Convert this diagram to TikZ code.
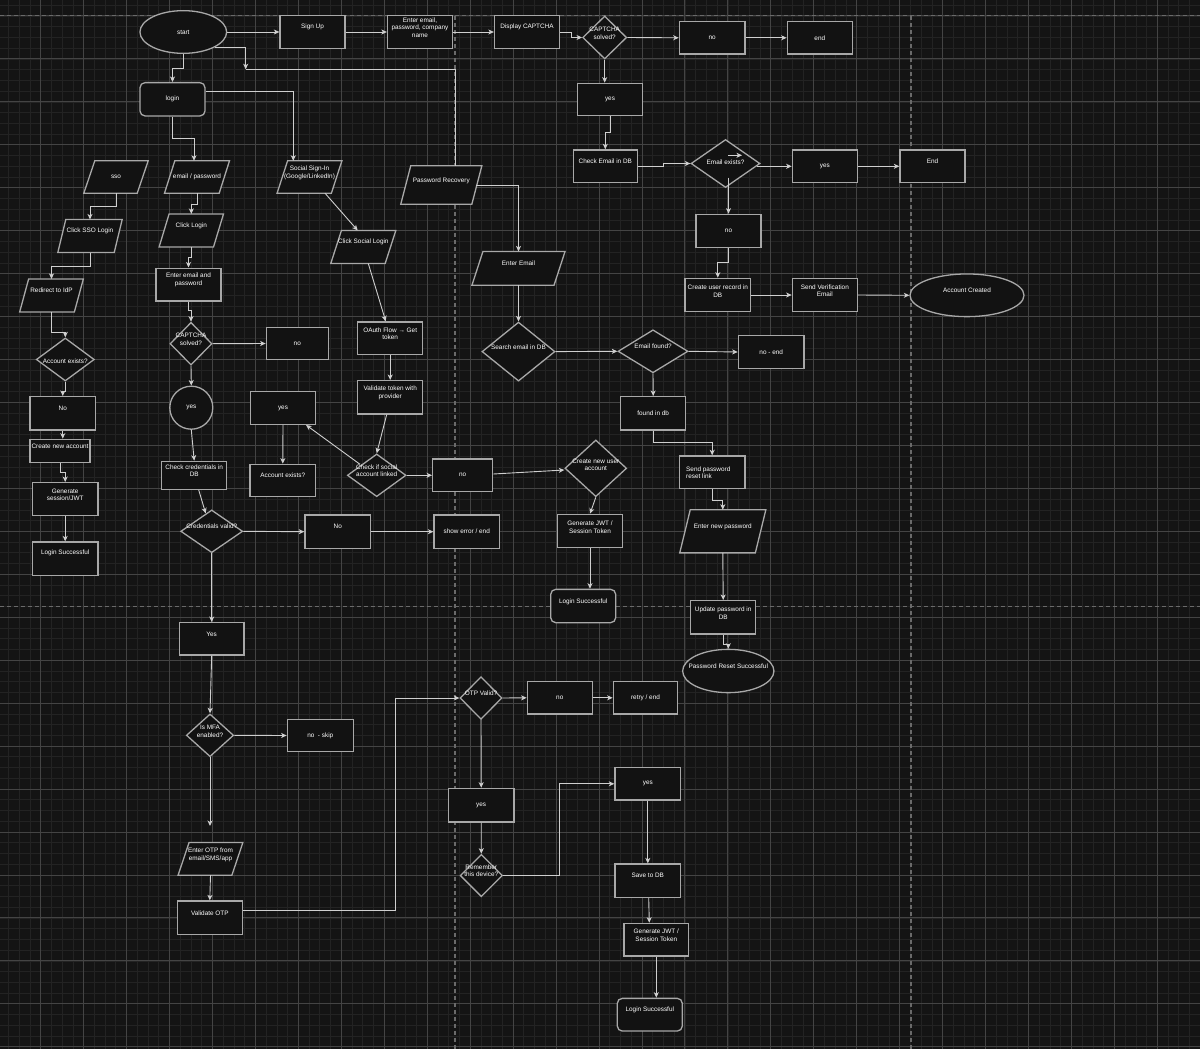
\documentclass[tikz,border=0pt]{standalone}
\usepackage{fontspec}
\setmainfont{Liberation Sans}
\usetikzlibrary{shapes.geometric,arrows.meta,calc}
\definecolor{bgc}{HTML}{141414}
\definecolor{gmin}{HTML}{232323}
\definecolor{gmaj}{HTML}{444444}
\definecolor{pagec}{HTML}{6A6A6A}
\definecolor{nfill}{HTML}{121212}
\definecolor{nline}{HTML}{A8A8A8}
\definecolor{eline}{HTML}{CFCFCF}
\tikzset{
 shp/.style={draw=nline, fill=nfill, line width=1.3pt},
 boxs/.style={shp, rectangle, inner sep=0pt},
 rbox/.style={boxs, rounded corners=5pt},
 dia/.style={shp, diamond, inner sep=0pt},
 ell/.style={shp, ellipse, inner sep=0pt},
 circ/.style={shp, circle, inner sep=0pt},
 txt/.style={text=white, font=\fontsize{6.4}{7.8}\selectfont, align=center, inner sep=0pt},
 arr/.style={draw=eline, line width=0.9pt, -{Stealth[length=5.5pt,width=5pt,inset=1.5pt]}},
 ln/.style={draw=eline, line width=0.9pt},
}
% #1 style, #2 name, #3 x, #4 y, #5 w, #6 h, #7 text, #8 text shift up
\newcommand\mybox[8]{%
 \node[#1, minimum width=#5pt, minimum height=#6pt] (#2) at (#3,#4) {};
 \node[txt] (#2-t) at ([yshift=#8pt]#2.center) {#7};
}
% #1 name, #2 x, #3 y, #4 w, #5 h, #6 slant, #7 text, #8 text shift up
\newcommand\mypara[8]{%
 \node[rectangle, inner sep=0pt, minimum width=#4pt, minimum height=#5pt] (#1) at (#2,#3) {};
 \draw[shp] ([xshift=#6pt]#1.north west) -- (#1.north east) -- ([xshift=-#6pt]#1.south east) -- (#1.south west) -- cycle;
 \node[txt] (#1-t) at ([yshift=#8pt]#1.center) {#7};
}
\begin{document}
\begin{tikzpicture}[x=1pt,y=-1pt]
\useasboundingbox (0,0) rectangle (1200,1049);
\fill[bgc] (0,0) rectangle (1200,1049);
\begin{scope}
\clip (0,0) rectangle (1200,1049);
\foreach \i in {-4,...,108} \draw[gmin, line width=0.6pt] ({40.6+\i*10.7375},0) -- ++(0,1049);
\foreach \i in {-2,...,97} \draw[gmin, line width=0.6pt] (0,{15.9+\i*10.7375}) -- ++(1200,0);
\foreach \i in {-1,...,27} \draw[gmaj, line width=0.8pt] ({40.6+\i*42.95},0) -- ++(0,1049);
\foreach \i in {0,...,24} \draw[gmaj, line width=0.8pt] (0,{15.9+\i*42.95}) -- ++(1200,0);
\draw[pagec, line width=1.2pt, dash pattern=on 4pt off 3pt] (0,15.7) -- (1200,15.7);
\draw[pagec, line width=1.2pt, dash pattern=on 4pt off 3pt] (0,606.7) -- (1200,606.7);
\draw[pagec, line width=1.2pt, dash pattern=on 4pt off 3pt] (455,15.7) -- (455,1049);
\draw[pagec, line width=1.2pt, dash pattern=on 4pt off 3pt] (911,15.7) -- (911,1049);
\end{scope}

% ---- sign-up row
\mybox{ell}{start}{183.3}{32}{86.7}{42.7}{start}{0}
\mybox{boxs}{signup}{312.5}{32}{65}{32.7}{Sign Up}{4.7}
\mybox{boxs}{enter1}{420}{32}{65}{32.7}{Enter email,\\password, company\\name}{4.3}
\mybox{boxs}{dispcap}{527}{32}{65}{32.7}{Display CAPTCHA}{4.7}
\mybox{dia}{cap1}{604.7}{37.5}{44}{43}{CAPTCHA\\solved?}{4.5}
\mybox{boxs}{no1}{712.2}{37.8}{65.7}{32.3}{no}{0}
\mybox{boxs}{end1}{819.8}{37.8}{65}{32.3}{end}{0}
\mybox{boxs}{yes1}{610}{99.5}{65}{32.4}{yes}{0}
\mybox{boxs}{checkemail}{605.3}{166.3}{64}{32.7}{Check Email in DB}{5}
\mybox{dia}{emailex}{725.5}{163.5}{69}{48}{Email exists?}{1}
\mybox{boxs}{yes2}{824.8}{166.3}{65}{32.7}{yes}{0}
\mybox{boxs}{end2}{932.5}{166.3}{65}{32.7}{End}{5}
\mybox{boxs}{no2}{728.5}{230.8}{65}{33}{no}{0}
\mybox{boxs}{createrec}{717.8}{295}{65.7}{33.4}{Create user record in\\DB}{4.2}
\mybox{boxs}{sendver}{824.8}{295}{65}{33.4}{Send Verification\\Email}{4.2}
\mybox{ell}{acctcreated}{967}{295.3}{114}{42.7}{Account Created}{5}

% ---- login branches
\mybox{rbox}{login}{172.5}{99.3}{65}{33.3}{login}{0}
\mypara{sso}{116}{177}{64}{32}{11}{sso}{0}
\mypara{emailpw}{197}{177}{64.6}{32}{10.3}{email / password}{0}
\mypara{social}{309.5}{177}{64.4}{32}{10.5}{Social Sign-In\\(Google/LinkedIn)}{4.3}
\mypara{clicksso}{90}{236}{64}{32.7}{8}{Click SSO Login}{5}
\mypara{clicklogin}{191.3}{230.5}{64}{32.7}{10}{Click Login}{4.5}
\mypara{clicksocial}{363.3}{247}{64.7}{32.7}{10.7}{Click Social Login}{4.7}
\mypara{pwrec}{441.3}{185}{80.7}{38}{10}{Password Recovery}{4.3}
\mypara{enteremail}{518.5}{268.3}{92.7}{33.3}{11}{Enter Email}{5}
\mypara{redirect}{51.5}{295.5}{63.3}{32.7}{9}{Redirect to IdP}{4.8}
\mybox{boxs}{enterpw}{188.5}{284.5}{65}{32.7}{Enter email and\\password}{4.3}
\mybox{dia}{cap2}{191}{343.7}{42}{42.7}{CAPTCHA\\solved?}{4.7}
\mybox{boxs}{no3}{297.3}{343.5}{62}{32}{no}{0}
\mybox{dia}{acctex}{65.3}{359.5}{58}{43}{Account exists?}{-1.5}
\mybox{boxs}{noA}{62.8}{413.3}{65.7}{33.3}{No}{4.6}
\mybox{boxs}{createacct}{60}{450.8}{60}{23}{Create new account}{4.5}
\mybox{boxs}{genjwt1}{65.2}{499.2}{65.7}{33}{Generate\\session/JWT}{4.4}
\mybox{boxs}{loginsucc1}{65.2}{558.7}{65.7}{33.3}{Login Successful}{5.4}
\mybox{circ}{yescirc}{191.3}{407.7}{43}{43}{yes}{0}
\mybox{boxs}{checkcred}{194.2}{475.3}{65}{28}{Check credentials in\\DB}{4.6}
\mybox{dia}{credvalid}{211.7}{531.3}{62}{42.7}{Credentials valid?}{4.6}
\mybox{boxs}{nocred}{337.8}{531.7}{65.7}{33.3}{No}{5}
\mybox{boxs}{showerr}{466.7}{531.7}{65.3}{33.3}{show error / end}{0}
\mybox{boxs}{yes3}{211.7}{638.8}{64.7}{32.3}{Yes}{4.8}
\mybox{boxs}{oauth}{390.2}{338}{65}{32.3}{OAuth Flow → Get\\token}{4.3}
\mybox{boxs}{validate}{390.2}{397.3}{65}{33.3}{Validate token with\\provider}{4.3}
\mybox{boxs}{yess}{283}{408}{65.4}{32.6}{yes}{0}
\mybox{boxs}{acctexs}{282.8}{480.5}{65.7}{32.4}{Account exists?}{4.8}
\mybox{dia}{checklinked}{376.7}{475.3}{58.7}{42.7}{Check if social\\account linked}{4.5}
\mybox{boxs}{nos}{462.7}{475.3}{60}{32.7}{no}{0}
\mybox{dia}{createuser}{595.8}{468.3}{61.7}{56.7}{Create new user\\account}{3.5}
\mybox{boxs}{genjwt2}{590}{531}{64.7}{33.3}{Generate JWT /\\Session Token}{3.7}
\mybox{rbox}{loginsucc2}{583.2}{606}{65}{33.3}{Login Successful}{4.3}

% ---- password recovery
\mybox{dia}{search}{518.5}{351.6}{73}{59}{Search email in DB}{4.8}
\mybox{dia}{emailfound}{653}{351.3}{70}{43}{Email found?}{4.6}
\mybox{boxs}{noend}{771.2}{352}{65.7}{32.7}{no - end}{0}
\mybox{boxs}{foundindb}{653.2}{413.3}{65}{33.3}{found in db}{0}
\node[boxs, minimum width=65.7pt, minimum height=32.7pt] (sendreset) at (712.2,472.3) {};
\node[txt, align=left, anchor=west] (sendreset-t) at (686,472.7) {Send password\\reset link};
\mypara{enternewpw}{722.8}{531.3}{85.7}{42.7}{10.5}{Enter new password}{4.6}
\mybox{boxs}{updatepw}{723.2}{617.3}{65}{33.3}{Update password in\\DB}{4.3}
\mybox{ell}{pwresetsucc}{728.3}{671}{91.3}{43.3}{Password Reset Successful}{5}

% ---- MFA
\mybox{dia}{mfa}{210}{735.3}{47.3}{42.7}{Is MFA\\enabled?}{4}
\mybox{boxs}{noskip}{320.3}{735.5}{66}{32.4}{no\ \ - skip}{0}
\mypara{enterotp}{210.5}{858.8}{64.4}{32.3}{11}{Enter OTP from\\email/SMS/app}{4}
\mybox{boxs}{validateotp}{209.8}{917.7}{65}{33.3}{Validate OTP}{4.4}
\mybox{dia}{otpvalid}{481}{698}{42}{42.7}{OTP Valid?}{4.7}
\mybox{boxs}{noo}{559.8}{697.8}{65}{32.3}{no}{0}
\mybox{boxs}{retry}{645.5}{697.8}{64.4}{32.3}{retry / end}{0}
\mybox{boxs}{yeso}{481.2}{805.2}{65.7}{33.7}{yes}{0}
\mybox{dia}{remember}{481.3}{875.5}{42.3}{42.3}{Remember\\this device?}{4.8}
\mybox{boxs}{yesm}{647.8}{783.8}{65.7}{32.3}{yes}{0}
\mybox{boxs}{savedb}{647.8}{880.7}{65.7}{33.3}{Save to DB}{5.4}
\mybox{boxs}{genjwt3}{656.3}{939.7}{64.7}{32.7}{Generate JWT /\\Session Token}{4.5}
\mybox{rbox}{loginsucc3}{649.8}{1014.7}{65}{32.7}{Login Successful}{4.7}

% ---- connectors
\draw[arr] (start.east) -- (signup.west);
\draw[arr] (start.south) -- (183.3,68.3) -| (login.north);
\coordinate (j1) at (245.7,69.3);
\coordinate (j2) at (455,69.3);
\draw[arr] (start.-25) -| (j1);
\draw[ln] (j1) -- (j2) -- (j2 |- pwrec.north);
\draw[arr] (signup.east) -- (enter1.west);
\draw[arr] (enter1.east) -- (dispcap.west);
\draw[arr] (dispcap.east) -- (571.7,32) |- (cap1.west);
\draw[arr] (cap1.east) -- (no1.west);
\draw[arr] (no1.east) -- (end1.west);
\draw[arr] (cap1.south) -- (cap1.south |- yes1.north);
\draw[arr] (yes1.south) -- (610,132.7) -| (checkemail.north);
\draw[arr] (checkemail.east) -- (663.3,166.3) |- (emailex.west);
\coordinate (sa1) at (728,155.3);
\coordinate (sa2) at (742,155.3);
\draw[arr] (sa1) -- (sa2);
\draw[arr] ($(emailex.east)+(-4,2.8)$) -- (yes2.west);
\draw[arr] (yes2.east) -- (end2.west);
\draw[arr] ($(emailex.center)+(3,14)$) -- (no2.north);
\draw[arr] (no2.south) -- (728.5,262.7) -| (createrec.north);
\draw[arr] (createrec.east) -- (sendver.west);
\draw[arr] (sendver.east) -- (acctcreated.west);

\draw[arr] (login.south) -- (172.5,138.3) -| ($(emailpw.north)+(-3,0)$);
\draw[arr] ($(login.east)+(0,-8.3)$) -| ($(social.north)+(-16.2,0)$);
\draw[arr] (sso.south) -- (116,206.7) -| (clicksso.north);
\draw[arr] (emailpw.south) -- (197,204) -| (clicklogin.north);
\draw[arr] (clicksso.south) -- (90,266) -| (redirect.north);
\draw[arr] (clicklogin.south) -- (191.3,257) -| (enterpw.north);
\draw[arr] (redirect.south) -- (51.5,332.7) -| (acctex.north);
\draw[arr] (enterpw.south) -- (188.5,310) -| (cap2.north);
\draw[arr] (cap2.east) -- (no3.west);
\draw[arr] ($(social.south)+(15.5,0)$) -- ($(clicksocial.north)+(-5.6,0)$);
\draw[arr] ($(clicksocial.south)+(5,0)$) -- ($(oauth.north)+(-4.5,0)$);
\draw[arr] (oauth.south) -- (validate.north);
\draw[arr] ($(validate.south)+(-3.5,0)$) -- (checklinked.north);
\draw[arr] ($(checklinked.center)+(-16.7,-11)$) -- ($(yess.south)+(23,0)$);
\draw[arr] (checklinked.east) -- (nos.west);
\draw[arr] ($(nos.east)+(0,-1.3)$) -- ($(createuser.west)+(0,1.7)$);
\draw[arr] (createuser.south) -- (genjwt2.north);
\draw[arr] (genjwt2.south) -- (genjwt2.south |- loginsucc2.north);
\draw[arr] (acctex.south) -- (65.3,391.7) -| (noA.north);
\draw[arr] (noA.south) -- (noA.south |- createacct.north);
\draw[arr] (createacct.south) -- (60,472.7) -| (genjwt1.north);
\draw[arr] (genjwt1.south) -- (loginsucc1.north);
\draw[arr] (cap2.south) -- (yescirc.north);
\draw[arr] (yescirc.south) -- (checkcred.north);
\draw[arr] ($(checkcred.south)+(4.5,0)$) -- ($(credvalid.north)+(-6,4.1)$);
\draw[arr] (credvalid.east) -- (nocred.west);
\draw[arr] (nocred.east) -- (showerr.west);
\draw[arr] (credvalid.south) -- (yes3.north);
\draw[arr] (yess.south) -- (acctexs.north);

\draw[arr] ($(pwrec.east)+(-6,0)$) -| (enteremail.north);
\draw[arr] (enteremail.south) -- (search.north);
\draw[arr] (search.east) -- (emailfound.west);
\draw[arr] (emailfound.east) -- (noend.west);
\draw[arr] (emailfound.south) -- (foundindb.north);
\draw[arr] (foundindb.south) -- (653.2,442.7) -| (sendreset.north);
\draw[arr] (sendreset.south) -- (712.2,500) -| (enternewpw.north);
\draw[arr] (enternewpw.south) -- (updatepw.north);
\draw[arr] (updatepw.south) -- (723.2,644) -| (pwresetsucc.north);

\draw[arr] (yes3.south) -- (mfa.north);
\draw[arr] (mfa.east) -- (noskip.west);
\coordinate (otpin) at (210,826);
\draw[arr] (mfa.south) -- (otpin);
\draw[arr] (enterotp.south) -- (validateotp.north);
\draw[arr] ($(validateotp.east)+(0,-7.7)$) -- (395.7,910) |- (otpvalid.west);
\draw[arr] (otpvalid.east) -- (noo.west);
\draw[arr] (noo.east) -- (retry.west);
\draw[arr] (otpvalid.south) -- (yeso.north);
\draw[arr] (yeso.south) -- (remember.north);
\draw[arr] (remember.east) -- (559,875.5) |- (yesm.west);
\draw[arr] (yesm.south) -- (savedb.north);
\draw[arr] ($(savedb.south)+(0.9,0)$) -- ($(genjwt3.north)+(-7,0)$);
\draw[arr] (genjwt3.south) -- (genjwt3.south |- loginsucc3.north);
\end{tikzpicture}
\end{document}
